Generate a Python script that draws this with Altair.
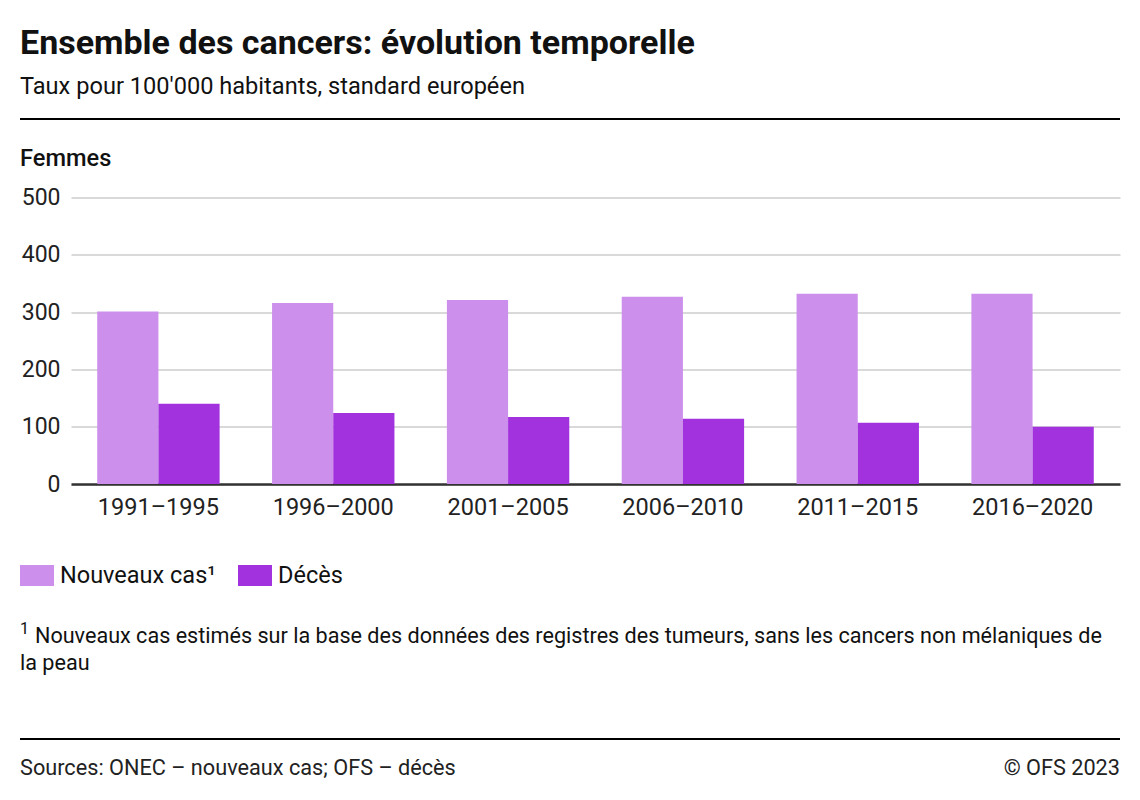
import altair as alt
import pandas as pd

periods = ["1991–1995", "1996–2000", "2001–2005", "2006–2010", "2011–2015", "2016–2020"]
series = ["Nouveaux cas¹", "Décès"]
new_cases = [301, 316, 321, 327, 332, 332]
deaths = [140, 124, 117, 114, 107, 100]
colors = ["#cc8fec", "#a232de"]

rows = []
for p, n, d in zip(periods, new_cases, deaths):
    rows.append({"period": p, "series": series[0], "value": n})
    rows.append({"period": p, "series": series[1], "value": d})
df = pd.DataFrame(rows)

FONT = "Roboto"
OX, OY = 71, 197.5  # plot origin in page coords
W, H = 1049, 286.5


def px(x):
    return x - OX


def py(y):
    return y - OY


bars = alt.Chart(df).mark_bar().encode(
    x=alt.X("period:N", sort=periods,
            scale=alt.Scale(paddingInner=0.3, paddingOuter=0.15),
            axis=alt.Axis(title=None, labelAngle=0, labelFontSize=23.5, labelFont=FONT,
                          labelColor="#222", labelPadding=11, ticks=False, tickSize=0,
                          domainColor="#333", domainWidth=2.5, grid=False)),
    xOffset=alt.XOffset("series:N", sort=series),
    y=alt.Y("value:Q", scale=alt.Scale(domain=[0, 500]),
            axis=alt.Axis(title=None, values=[0, 100, 200, 300, 400, 500], labelFontSize=23,
                          labelFont=FONT, labelColor="#222", labelPadding=11, ticks=False,
                          tickSize=0, domain=False, gridColor="#cccccc", gridWidth=1.5)),
    color=alt.Color("series:N", sort=series,
                    scale=alt.Scale(domain=series, range=colors), legend=None),
)

blank = pd.DataFrame({"a": [0]})


def text(t, x, y, size, weight="normal", align="left", color="#111", baseline="alphabetic"):
    return alt.Chart(blank).mark_text(
        text=t, font=FONT, fontSize=size, fontWeight=weight, align=align,
        baseline=baseline, color=color
    ).encode(x=alt.value(px(x)), y=alt.value(py(y)))


def hrule(x1, x2, y, width=2, color="#000"):
    return alt.Chart(blank).mark_rule(color=color, strokeWidth=width).encode(
        x=alt.value(px(x1)), x2=alt.value(px(x2)), y=alt.value(py(y)))


def swatch(x1, x2, y1, y2, color):
    return alt.Chart(blank).mark_rect(color=color).encode(
        x=alt.value(px(x1)), x2=alt.value(px(x2)), y=alt.value(py(y1)), y2=alt.value(py(y2)))


layers = [
    bars,
    text("Ensemble des cancers: évolution temporelle", 20, 53.5, 34, "bold"),
    text("Taux pour 100'000 habitants, standard européen", 20, 94, 23.6),
    hrule(20, 1120, 119),
    text("Femmes", 20, 166, 23.6, 500),
    swatch(20, 54, 565, 586, colors[0]),
    text(series[0], 60, 583, 23.5),
    swatch(238, 272, 565, 586, colors[1]),
    text(series[1], 278, 583, 23.5),
    text("1", 20, 634, 16),
    text("Nouveaux cas estimés sur la base des données des registres des tumeurs, sans les cancers non mélaniques de",
         35, 643, 21.6),
    text("la peau", 20, 670, 21.6),
    hrule(20, 1120, 739),
    text("Sources: ONEC – nouveaux cas; OFS – décès", 20, 775, 21.7, color="#222"),
    text("© OFS 2023", 1120, 775, 21.7, align="right", color="#222"),
]

chart = alt.layer(*layers).properties(
    width=W, height=H,
    autosize=alt.AutoSizeParams(type="none"),
    padding={"left": OX - 8, "top": OY - 8, "right": 12, "bottom": 300},
).configure(font=FONT).configure_view(strokeWidth=0, stroke="transparent")

chart.save("out.html", embed_options={"renderer": "svg", "actions": False})
